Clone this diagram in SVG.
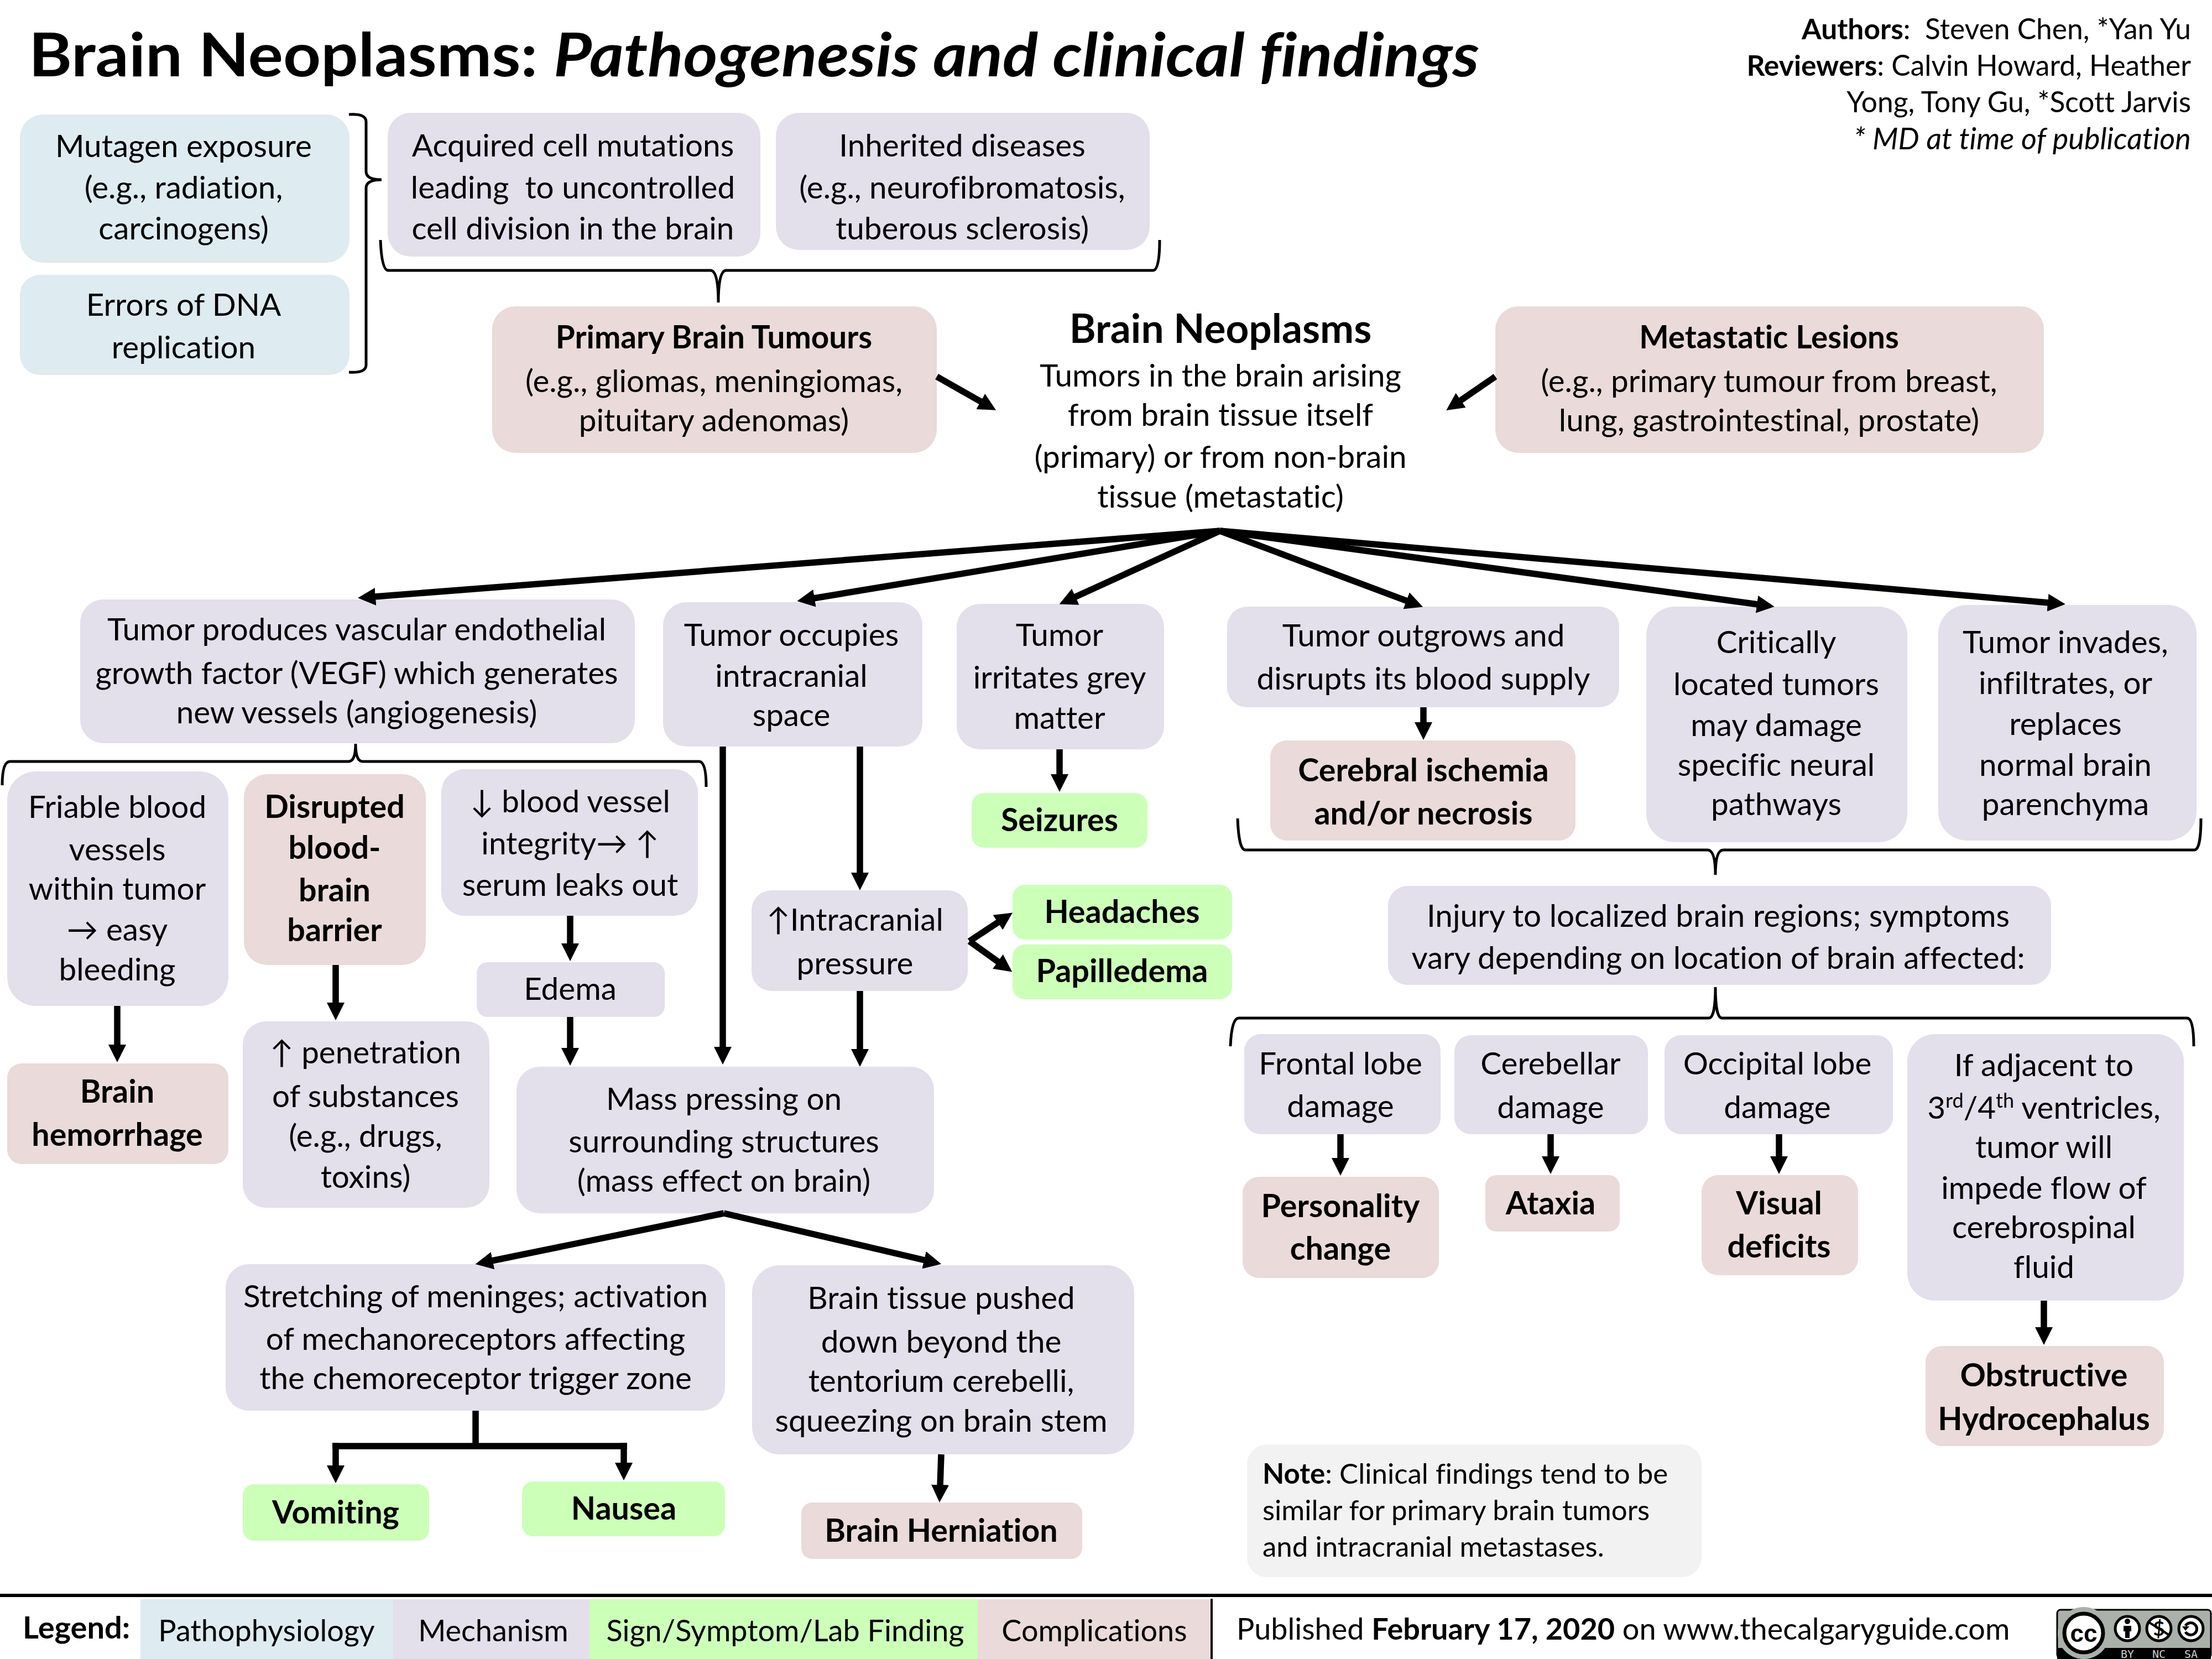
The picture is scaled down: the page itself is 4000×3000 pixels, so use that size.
<svg xmlns="http://www.w3.org/2000/svg" width="4000" height="3000" viewBox="0 0 4000 3000">
<style>
text{font-family:Lato,"Liberation Sans","DejaVu Sans",sans-serif;fill:#000;font-variant-ligatures:none;white-space:pre}
.t{font-size:56.6px;text-anchor:middle}
.b{font-size:57.5px;text-anchor:middle;font-weight:700}
.bb{font-weight:700}
.n{font-size:51px}
.a{font-size:51.5px;text-anchor:end}
.lg{font-size:54px;text-anchor:middle}
.cc{font-size:20px;text-anchor:middle;fill:#ccc;font-family:"DejaVu Sans Mono",monospace}
.blue{fill:#deebf1}.pur{fill:#e3dfeb}.pink{fill:#eadada}.grn{fill:#ccffb8}.gry{fill:#f2f2f2}
.arw{fill:none;stroke:#000;stroke-width:11.5;marker-end:url(#h)}
.ln{fill:none;stroke:#000;stroke-width:11.5}
.br{fill:none;stroke:#000;stroke-width:5}
</style>
<defs><marker id="h" markerUnits="userSpaceOnUse" markerWidth="34" markerHeight="34" refX="2" refY="17" orient="auto"><path d="M0,1L32,17L0,33Z" fill="#000"/></marker></defs>
<g id="title"><text transform="translate(52,138) scale(1.08,1)" font-size="110" font-weight="700">Brain Neoplasms: <tspan font-style="italic">Pathogenesis and clinical findings</tspan></text></g>
<g id="authors"><text class="a" x="3962" y="71"><tspan class="bb">Authors</tspan>:  Steven Chen, *Yan Yu</text><text class="a" x="3962" y="137"><tspan class="bb">Reviewers</tspan>: Calvin Howard, Heather</text><text class="a" x="3962" y="203">Yong, Tony Gu, *Scott Jarvis</text><text class="a" x="3962" y="270" font-style="italic" font-size="54" style="font-size:54px">* MD at time of publication</text></g>
<g id="mutagen"><rect class="blue" x="36" y="207" width="596" height="268" rx="42"/><text class="t"><tspan x="332" y="284">Mutagen exposure</tspan><tspan x="332" y="359">(e.g., radiation,</tspan><tspan x="332" y="433">carcinogens)</tspan></text></g>
<g id="errors"><rect class="blue" x="36" y="497" width="596" height="181" rx="36"/><text class="t"><tspan x="332" y="571">Errors of DNA</tspan><tspan x="332" y="648">replication</tspan></text></g>
<g id="acquired"><rect class="pur" x="701" y="204" width="674" height="260" rx="42"/><text class="t"><tspan x="1036" y="283">Acquired cell mutations</tspan><tspan x="1036" y="359">leading  to uncontrolled</tspan><tspan x="1036" y="433">cell division in the brain</tspan></text></g>
<g id="inherited"><rect class="pur" x="1403" y="204" width="676" height="248" rx="42"/><text class="t"><tspan x="1740" y="283">Inherited diseases</tspan><tspan x="1740" y="359">(e.g., neurofibromatosis,</tspan><tspan x="1740" y="433">tuberous sclerosis)</tspan></text></g>
<g id="primary"><rect class="pink" x="890" y="554" width="804" height="265" rx="42"/><text class="t"><tspan class="bb" x="1291" y="630">Primary Brain Tumours</tspan><tspan x="1291" y="709">(e.g., gliomas, meningiomas,</tspan><tspan x="1291" y="780">pituitary adenomas)</tspan></text></g>
<g id="neoplasms"><text class="t"><tspan class="bb" x="2207" y="620" font-size="73" style="font-size:73px">Brain Neoplasms</tspan><tspan x="2207" y="699">Tumors in the brain arising</tspan><tspan x="2207" y="770">from brain tissue itself</tspan><tspan x="2207" y="846">(primary) or from non-brain</tspan><tspan x="2207" y="918">tissue (metastatic)</tspan></text></g>
<g id="metastatic"><rect class="pink" x="2704" y="554" width="992" height="265" rx="42"/><text class="t"><tspan class="bb" x="3199" y="630">Metastatic Lesions</tspan><tspan x="3199" y="709">(e.g., primary tumour from breast,</tspan><tspan x="3199" y="780">lung, gastrointestinal, prostate)</tspan></text></g>
<g id="vegf"><rect class="pur" x="145" y="1084" width="1003" height="260" rx="42"/><text class="t"><tspan x="645" y="1158">Tumor produces vascular endothelial</tspan><tspan x="645" y="1237">growth factor (VEGF) which generates</tspan><tspan x="645" y="1308">new vessels (angiogenesis)</tspan></text></g>
<g id="occupies"><rect class="pur" x="1199" y="1089" width="469" height="261" rx="42"/><text class="t"><tspan x="1431" y="1168">Tumor occupies</tspan><tspan x="1431" y="1242">intracranial</tspan><tspan x="1431" y="1313">space</tspan></text></g>
<g id="irritates"><rect class="pur" x="1730" y="1092" width="375" height="263" rx="42"/><text class="t"><tspan x="1916" y="1168">Tumor</tspan><tspan x="1916" y="1245">irritates grey</tspan><tspan x="1916" y="1318">matter</tspan></text></g>
<g id="outgrows"><rect class="pur" x="2219" y="1097" width="709" height="182" rx="36"/><text class="t"><tspan x="2574" y="1169">Tumor outgrows and</tspan><tspan x="2574" y="1247">disrupts its blood supply</tspan></text></g>
<g id="critically"><rect class="pur" x="2977" y="1097" width="472" height="426" rx="52"/><text class="t"><tspan x="3212" y="1181">Critically</tspan><tspan x="3212" y="1257">located tumors</tspan><tspan x="3212" y="1331">may damage</tspan><tspan x="3212" y="1403">specific neural</tspan><tspan x="3212" y="1474">pathways</tspan></text></g>
<g id="invades"><rect class="pur" x="3505" y="1094" width="467" height="426" rx="52"/><text class="t"><tspan x="3735" y="1181">Tumor invades,</tspan><tspan x="3735" y="1255">infiltrates, or</tspan><tspan x="3735" y="1329">replaces</tspan><tspan x="3735" y="1403">normal brain</tspan><tspan x="3735" y="1474">parenchyma</tspan></text></g>
<g id="ischemia"><rect class="pink" x="2297" y="1339" width="552" height="181" rx="30"/><text class="b"><tspan x="2574" y="1413">Cerebral ischemia</tspan><tspan x="2574" y="1491">and/or necrosis</tspan></text></g>
<g id="seizures"><rect class="grn" x="1757" y="1434" width="318" height="99" rx="22"/><text class="b" x="1916" y="1503">Seizures</text></g>
<g id="headaches"><rect class="grn" x="1831" y="1600" width="397" height="99" rx="22"/><text class="b" x="2029" y="1669">Headaches</text></g>
<g id="papilledema"><rect class="grn" x="1831" y="1708" width="397" height="99" rx="22"/><text class="b" x="2029" y="1776">Papilledema</text></g>
<g id="icp"><rect class="pur" x="1359" y="1610" width="391" height="182" rx="36"/><text class="t"><tspan x="1546" y="1683">↑Intracranial</tspan><tspan x="1546" y="1762">pressure</tspan></text></g>
<g id="friable"><rect class="pur" x="13" y="1395" width="400" height="424" rx="52"/><text class="t"><tspan x="212" y="1479">Friable blood</tspan><tspan x="212" y="1556">vessels</tspan><tspan x="212" y="1627">within tumor</tspan><tspan x="212" y="1701">→ easy</tspan><tspan x="212" y="1773">bleeding</tspan></text></g>
<g id="disrupted"><rect class="pink" x="441" y="1400" width="329" height="345" rx="42"/><text class="b"><tspan x="605" y="1479">Disrupted</tspan><tspan x="605" y="1553">blood-</tspan><tspan x="605" y="1630">brain</tspan><tspan x="605" y="1702">barrier</tspan></text></g>
<g id="integrity"><rect class="pur" x="798" y="1391" width="464" height="265" rx="42"/><text class="t"><tspan x="1031" y="1469">↓ blood vessel</tspan><tspan x="1031" y="1545">integrity→ ↑</tspan><tspan x="1031" y="1620">serum leaks out</tspan></text></g>
<g id="edema"><rect class="pur" x="862" y="1740" width="340" height="99" rx="20"/><text class="t" x="1031" y="1808">Edema</text></g>
<g id="hemorrhage"><rect class="pink" x="13" y="1923" width="400" height="182" rx="26"/><text class="b"><tspan x="212" y="1994">Brain</tspan><tspan x="212" y="2072">hemorrhage</tspan></text></g>
<g id="penetration"><rect class="pur" x="439" y="1847" width="446" height="337" rx="42"/><text class="t"><tspan x="661" y="1923">↑ penetration</tspan><tspan x="661" y="2002">of substances</tspan><tspan x="661" y="2074">(e.g., drugs,</tspan><tspan x="661" y="2148">toxins)</tspan></text></g>
<g id="mass"><rect class="pur" x="934" y="1929" width="755" height="265" rx="42"/><text class="t"><tspan x="1309" y="2007">Mass pressing on</tspan><tspan x="1309" y="2084">surrounding structures</tspan><tspan x="1309" y="2155">(mass effect on brain)</tspan></text></g>
<g id="stretching"><rect class="pur" x="408" y="2286" width="903" height="265" rx="42"/><text class="t"><tspan x="860" y="2364">Stretching of meninges; activation</tspan><tspan x="860" y="2441">of mechanoreceptors affecting</tspan><tspan x="860" y="2512">the chemoreceptor trigger zone</tspan></text></g>
<g id="tissue"><rect class="pur" x="1360" y="2288" width="691" height="342" rx="50"/><text class="t"><tspan x="1702" y="2367">Brain tissue pushed</tspan><tspan x="1702" y="2446">down beyond the</tspan><tspan x="1702" y="2517">tentorium cerebelli,</tspan><tspan x="1702" y="2589">squeezing on brain stem</tspan></text></g>
<g id="vomiting"><rect class="grn" x="439" y="2684" width="337" height="102" rx="20"/><text class="b" x="607" y="2755">Vomiting</text></g>
<g id="nausea"><rect class="grn" x="944" y="2679" width="367" height="99" rx="20"/><text class="b" x="1128" y="2748">Nausea</text></g>
<g id="herniation"><rect class="pink" x="1449" y="2717" width="508" height="102" rx="20"/><text class="b" x="1702" y="2788">Brain Herniation</text></g>
<g id="note"><rect class="gry" x="2255" y="2612" width="822" height="240" rx="36"/><text class="n"><tspan x="2283" y="2683"><tspan class="bb">Note</tspan>: Clinical findings tend to be</tspan><tspan x="2283" y="2749">similar for primary brain tumors</tspan><tspan x="2283" y="2815">and intracranial metastases.</tspan></text></g>
<g id="injury"><rect class="pur" x="2510" y="1602" width="1199" height="179" rx="36"/><text class="t"><tspan x="3107" y="1676">Injury to localized brain regions; symptoms</tspan><tspan x="3107" y="1752">vary depending on location of brain affected:</tspan></text></g>
<g id="frontal"><rect class="pur" x="2250" y="1870" width="355" height="181" rx="30"/><text class="t"><tspan x="2424" y="1943">Frontal lobe</tspan><tspan x="2424" y="2020">damage</tspan></text></g>
<g id="cerebellar"><rect class="pur" x="2630" y="1872" width="350" height="179" rx="30"/><text class="t"><tspan x="2804" y="1943">Cerebellar</tspan><tspan x="2804" y="2022">damage</tspan></text></g>
<g id="occipital"><rect class="pur" x="3010" y="1872" width="413" height="179" rx="30"/><text class="t"><tspan x="3214" y="1943">Occipital lobe</tspan><tspan x="3214" y="2022">damage</tspan></text></g>
<g id="adjacent"><rect class="pur" x="3449" y="1870" width="500" height="482" rx="50"/><text class="t"><tspan x="3696" y="1946">If adjacent to</tspan><tspan x="3696" y="2023">3<tspan style="font-size:36px" dy="-20">rd</tspan><tspan dy="20">/4</tspan><tspan style="font-size:36px" dy="-20">th</tspan><tspan dy="20"> ventricles,</tspan></tspan><tspan x="3696" y="2094">tumor will</tspan><tspan x="3696" y="2168">impede flow of</tspan><tspan x="3696" y="2239">cerebrospinal</tspan><tspan x="3696" y="2311">fluid</tspan></text></g>
<g id="personality"><rect class="pink" x="2247" y="2128" width="355" height="183" rx="30"/><text class="b"><tspan x="2424" y="2201">Personality</tspan><tspan x="2424" y="2278">change</tspan></text></g>
<g id="ataxia"><rect class="pink" x="2686" y="2125" width="243" height="102" rx="20"/><text class="b" x="2804" y="2196">Ataxia</text></g>
<g id="visual"><rect class="pink" x="3077" y="2125" width="283" height="181" rx="30"/><text class="b"><tspan x="3217" y="2196">Visual</tspan><tspan x="3217" y="2274">deficits</tspan></text></g>
<g id="obstructive"><rect class="pink" x="3482" y="2434" width="431" height="181" rx="30"/><text class="b"><tspan x="3696" y="2507">Obstructive</tspan><tspan x="3696" y="2586">Hydrocephalus</tspan></text></g>
<g id="connectors">
<path class="br" d="M631,207Q662,205 662,220V310Q662,325 690,325Q662,325 662,340V660Q662,675 631,673"/>
<path class="br" d="M688,434Q690,489 702,489H1285Q1299,489 1299,547Q1299,489 1313,489H2085Q2097,489 2097,434"/>
<path class="br" d="M4,1420Q4,1377 18,1377H630Q643,1377 643,1345Q643,1377 656,1377H1264Q1277,1377 1277,1423"/>
<path class="br" d="M2238,1480Q2240,1537 2252,1537H3088Q3102,1537 3102,1582Q3102,1537 3116,1537H3968Q3980,1537 3980,1480"/>
<path class="br" d="M2225,1892Q2227,1841 2240,1841H3090Q3102,1841 3102,1785Q3102,1841 3114,1841H3955Q3967,1841 3967,1892"/>
<path class="arw" d="M1694,681L1775,727"/>
<path class="arw" d="M2704,681L2640,725"/>
<path class="arw" d="M2206,960L677,1079"/>
<path class="arw" d="M2206,960L1471,1082"/>
<path class="arw" d="M2206,960L1943,1080"/>
<path class="arw" d="M2206,960L2545,1087"/>
<path class="arw" d="M2206,960L3179,1093"/>
<path class="arw" d="M2206,960L3705,1090"/>
<path class="arw" d="M1307,1350V1895"/>
<path class="arw" d="M1555,1350V1580"/>
<path class="arw" d="M1555,1792V1899"/>
<path class="arw" d="M1916,1355V1402"/>
<path class="arw" d="M2574,1279V1308"/>
<path class="arw" d="M1753,1702L1806,1667"/>
<path class="arw" d="M1753,1702L1806,1740"/>
<path class="arw" d="M1031,1656V1708"/>
<path class="arw" d="M1031,1839V1897"/>
<path class="arw" d="M607,1745V1815"/>
<path class="arw" d="M212,1819V1891"/>
<path class="arw" d="M1309,2194L889,2280"/>
<path class="arw" d="M1309,2194L1673,2279"/>
<path class="arw" d="M1702,2630L1700,2687"/>
<path class="ln" d="M860,2551V2615"/>
<path class="ln" d="M601,2615H1134"/>
<path class="arw" d="M607,2609V2652"/>
<path class="arw" d="M1128,2609V2647"/>
<path class="arw" d="M2424,2051V2096"/>
<path class="arw" d="M2804,2051V2093"/>
<path class="arw" d="M3217,2051V2093"/>
<path class="arw" d="M3696,2352V2402"/>
</g>
<g id="legend">
<path d="M0,2885H4000" stroke="#000" stroke-width="6" fill="none"/>
<rect class="blue" x="254" y="2892" width="457" height="108"/><rect class="pur" x="711" y="2892" width="355" height="108"/><rect class="grn" x="1066" y="2892" width="702" height="108"/><rect class="pink" x="1768" y="2892" width="421" height="108"/>
<path d="M2191,2891V3000" stroke="#000" stroke-width="4" fill="none"/>
<text x="41" y="2963" font-size="56" font-weight="700">Legend:</text>
<text class="lg" x="482" y="2968">Pathophysiology</text><text class="lg" x="892" y="2968">Mechanism</text><text class="lg" x="1420" y="2968">Sign/Symptom/Lab Finding</text><text class="lg" x="1979" y="2968">Complications</text>
<text x="2236" y="2965" font-size="54">Published <tspan class="bb">February 17, 2020</tspan> on www.thecalgaryguide.com</text>
</g>
<g id="license">
<rect x="3720" y="2911" width="278" height="87" rx="6" fill="#aab0aa" stroke="#000" stroke-width="3"/>
<rect x="3720" y="2980" width="278" height="20" fill="#000"/>
<circle cx="3768" cy="2953" r="47" fill="#aab0aa"/>
<circle cx="3768" cy="2953" r="35" fill="#fff" stroke="#000" stroke-width="7"/>
<text x="3768" y="2969" font-size="44" font-weight="700" text-anchor="middle" style="font-family:'Liberation Sans',sans-serif">cc</text>
<circle cx="3847" cy="2945" r="22" fill="#fff" stroke="#000" stroke-width="5"/><circle cx="3847" cy="2932" r="5" fill="#000"/><path d="M3840,2940H3854V2950H3851V2962H3843V2950H3840Z" fill="#000"/>
<circle cx="3904" cy="2945" r="22" fill="#fff" stroke="#000" stroke-width="5"/><text x="3904" y="2958" font-size="36" font-weight="700" text-anchor="middle">$</text><path d="M3885,2933L3923,2957" stroke="#000" stroke-width="4"/>
<circle cx="3962" cy="2945" r="22" fill="#fff" stroke="#000" stroke-width="5"/><path d="M3952,2940A11,11 0 1 1 3952,2951" fill="none" stroke="#000" stroke-width="5"/><path d="M3946,2941H3959L3952,2949Z" fill="#000"/>
<text class="cc" x="3847" y="2998">BY</text><text class="cc" x="3904" y="2998">NC</text><text class="cc" x="3962" y="2998">SA</text>
</g>
</svg>
